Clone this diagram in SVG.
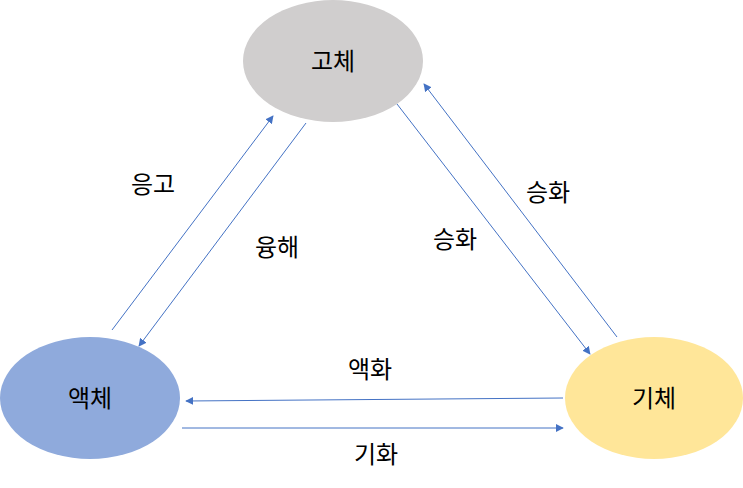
<svg xmlns="http://www.w3.org/2000/svg" width="743" height="488" viewBox="0 0 743 488">
<style>
text{font-family:"Noto Sans CJK KR","Noto Sans",sans-serif;font-size:24px;fill:#000;text-anchor:middle}
.c line{stroke:#4472c4;stroke-width:1;marker-end:url(#a)}
</style>
<defs><marker id="a" viewBox="0 0 10 10" refX="9" refY="5" markerWidth="8" markerHeight="8" orient="auto" markerUnits="userSpaceOnUse"><path d="M0,0L10,5L0,10z" fill="#4472c4"/></marker></defs>
<rect width="743" height="488" fill="#fff"/>
<g id="solid"><ellipse cx="333" cy="61" rx="90" ry="61" fill="#d0cece"/><text x="333" y="70">고체</text></g>
<g id="liquid"><ellipse cx="90" cy="398" rx="90" ry="61" fill="#8faadc"/><text x="90" y="407">액체</text></g>
<g id="gas"><ellipse cx="654" cy="398" rx="89" ry="61" fill="#ffe699"/><text x="654" y="407">기체</text></g>
<g class="c">
<line x1="112" y1="330" x2="273" y2="116"/>
<line x1="306" y1="123" x2="139" y2="346"/>
<line x1="397" y1="104" x2="590" y2="354"/>
<line x1="617" y1="337" x2="424" y2="84"/>
<line x1="563" y1="398" x2="186" y2="401"/>
<line x1="182" y1="428" x2="563" y2="428"/>
</g>
<g id="labels">
<text x="153" y="193">응고</text>
<text x="277" y="256">융해</text>
<text x="455" y="248">승화</text>
<text x="548" y="201">승화</text>
<text x="370" y="378">액화</text>
<text x="376" y="463">기화</text>
</g>
</svg>
